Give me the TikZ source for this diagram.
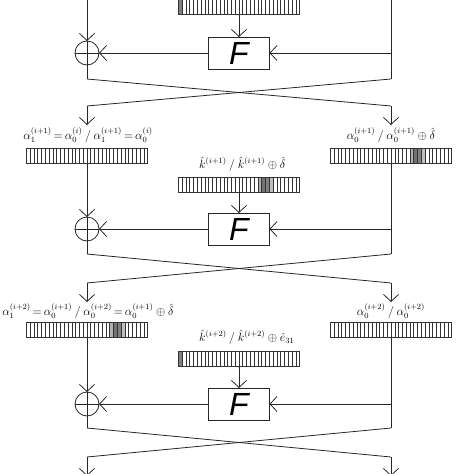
\documentclass[tikz,border=0pt]{standalone}
\usepackage{fontspec}
\newfontfamily\Ffont{Liberation Sans}
\usetikzlibrary{arrows.meta,calc}
\DeclareMathSizes{11.5}{11.5}{8.2}{6.2}
\newcommand\Eq{\mskip3mu{=}\mskip3mu}
\newcommand\Sl{\mskip4mu/\mskip4mu}
\tikzset{
  ln/.style={draw=black!85, line width=0.8pt},
  arr/.style={ln, -{Straight Barb[length=7pt,width=15pt]}},
  reg/.style={draw=none, minimum width=121.5pt, minimum height=15pt, inner sep=0pt, outer sep=0pt},
  fbox/.style={draw=black!85, line width=0.8pt, minimum width=61pt, minimum height=32pt, inner sep=0pt, outer sep=0pt,
    font=\Ffont\itshape\fontsize{32}{34}\selectfont},
  xor/.style={circle, draw=black!85, line width=0.8pt, minimum size=24pt, inner sep=0pt, outer sep=0pt,
    path picture={\draw[black!85,line width=0.8pt] (path picture bounding box.north) -- (path picture bounding box.south)
      (path picture bounding box.west) -- (path picture bounding box.east);}},
  lab/.style={inner sep=0pt, font=\fontsize{11.5}{13.5}\selectfont},
  cellln/.style={draw=black!80, line width=0.6pt},
}
\newcommand\Reg[3]{%
  \node[reg] (#1) at (#2) {};
  \foreach \c/\s in {#3} {\fill[black!\s] ($(#1.north west)+(\c*3.796875,0)$) rectangle ++(3.796875,15);}
  \foreach \k in {1,...,31} {\draw[cellln] ($(#1.north west)+(\k*3.796875,0)$) -- ++(0,15);}
  \draw[cellln] (#1.north west) rectangle (#1.south east);
}
\begin{document}
\begin{tikzpicture}[x=1pt,y=-1pt]
\useasboundingbox (0,0) rectangle (474,474);
\clip (0,0) rectangle (474,474);
% ---------- round 1 (partial) ----------
\Reg{r1m}{239,7}{0/50}
\node[fbox] (F1) at (239,53) {F};
\node[xor] (X1) at (87,53) {};
\coordinate (t1l) at (87,-5);
\coordinate (t1r) at (391,-5);
\coordinate (k1l) at (87,79);
\coordinate (k1r) at (391,79);
\coordinate (b1l) at (87,106);
\coordinate (b1r) at (391,106);
\draw[arr] (r1m.south) -- (F1.north);
\draw[arr] (t1l) -- (X1.north);
\draw[ln] (X1.south) -- (k1l);
\draw[ln] (t1r) -- (k1r);
\draw[arr] (t1r |- F1.center) -- (F1.east);
\draw[arr] (F1.west) -- (X1.east);
\draw[ln] (k1l) -- (b1r);
\draw[ln] (k1r) -- (b1l);
% ---------- round 2 ----------
\coordinate (a2l) at (87,125);
\coordinate (a2r) at (391,125);
\draw[arr] (b1l) -- (a2l);
\draw[arr] (b1r) -- (a2r);
\node[lab] (L2l) at (88,135) {$\alpha_1^{(i+1)}\Eq\alpha_0^{(i)}\Sl\alpha_1^{(i+1)}\Eq\alpha_0^{(i)}$};
\node[lab] (L2r) at (391,135) {$\alpha_0^{(i+1)}\Sl\alpha_0^{(i+1)}\oplus\hat\delta$};
\node[lab,anchor=west] (L2m) at (199,164) {$\hat k^{(i+1)}\Sl\hat k^{(i+1)}\oplus\hat\delta$};
\Reg{r2l}{87,155.5}{0/0}
\Reg{r2r}{391,155.5}{21/30,22/55,23/50,24/25}
\Reg{r2m}{239,184.5}{21/30,22/55,23/50,24/25}
\node[fbox] (F2) at (239,229) {F};
\node[xor] (X2) at (87,229) {};
\coordinate (k2l) at (87,254);
\coordinate (k2r) at (391,254);
\coordinate (b2l) at (87,283);
\coordinate (b2r) at (391,283);
\draw[arr] (r2l.south) -- (X2.north);
\draw[ln] (X2.south) -- (k2l);
\draw[ln] (r2r.south) -- (k2r);
\draw[arr] (r2r.south |- F2.center) -- (F2.east);
\draw[arr] (r2m.south) -- (F2.north);
\draw[arr] (F2.west) -- (X2.east);
\draw[ln] (k2l) -- (b2r);
\draw[ln] (k2r) -- (b2l);
% ---------- round 3 ----------
\coordinate (a3l) at (87,302);
\coordinate (a3r) at (391,302);
\draw[arr] (b2l) -- (a3l);
\draw[arr] (b2r) -- (a3r);
\node[lab] (L3l) at (88,311) {$\alpha_1^{(i+2)}\Eq\alpha_0^{(i+1)}\Sl\alpha_0^{(i+2)}\Eq\alpha_0^{(i+1)}\oplus\hat\delta$};
\node[lab] (L3r) at (391,311) {$\alpha_0^{(i+2)}\Sl\alpha_0^{(i+2)}$};
\node[lab,anchor=west] (L3m) at (199,337) {$\hat k^{(i+2)}\Sl\hat k^{(i+2)}\oplus\hat e_{31}$};
\Reg{r3l}{87,329.5}{22/30,23/55,24/50,25/25}
\Reg{r3r}{391,329.5}{0/0}
\Reg{r3m}{239,358.5}{0/50}
\node[fbox] (F3) at (239,404) {F};
\node[xor] (X3) at (87,404) {};
\coordinate (k3l) at (87,428);
\coordinate (k3r) at (391,428);
\coordinate (b3l) at (87,457);
\coordinate (b3r) at (391,457);
\coordinate (a4l) at (87,476);
\coordinate (a4r) at (391,476);
\draw[arr] (r3l.south) -- (X3.north);
\draw[ln] (X3.south) -- (k3l);
\draw[ln] (r3r.south) -- (k3r);
\draw[arr] (r3r.south |- F3.center) -- (F3.east);
\draw[arr] (r3m.south) -- (F3.north);
\draw[arr] (F3.west) -- (X3.east);
\draw[ln] (k3l) -- (b3r);
\draw[ln] (k3r) -- (b3l);
\draw[arr] (b3l) -- (a4l);
\draw[arr] (b3r) -- (a4r);
\end{tikzpicture}
\end{document}
